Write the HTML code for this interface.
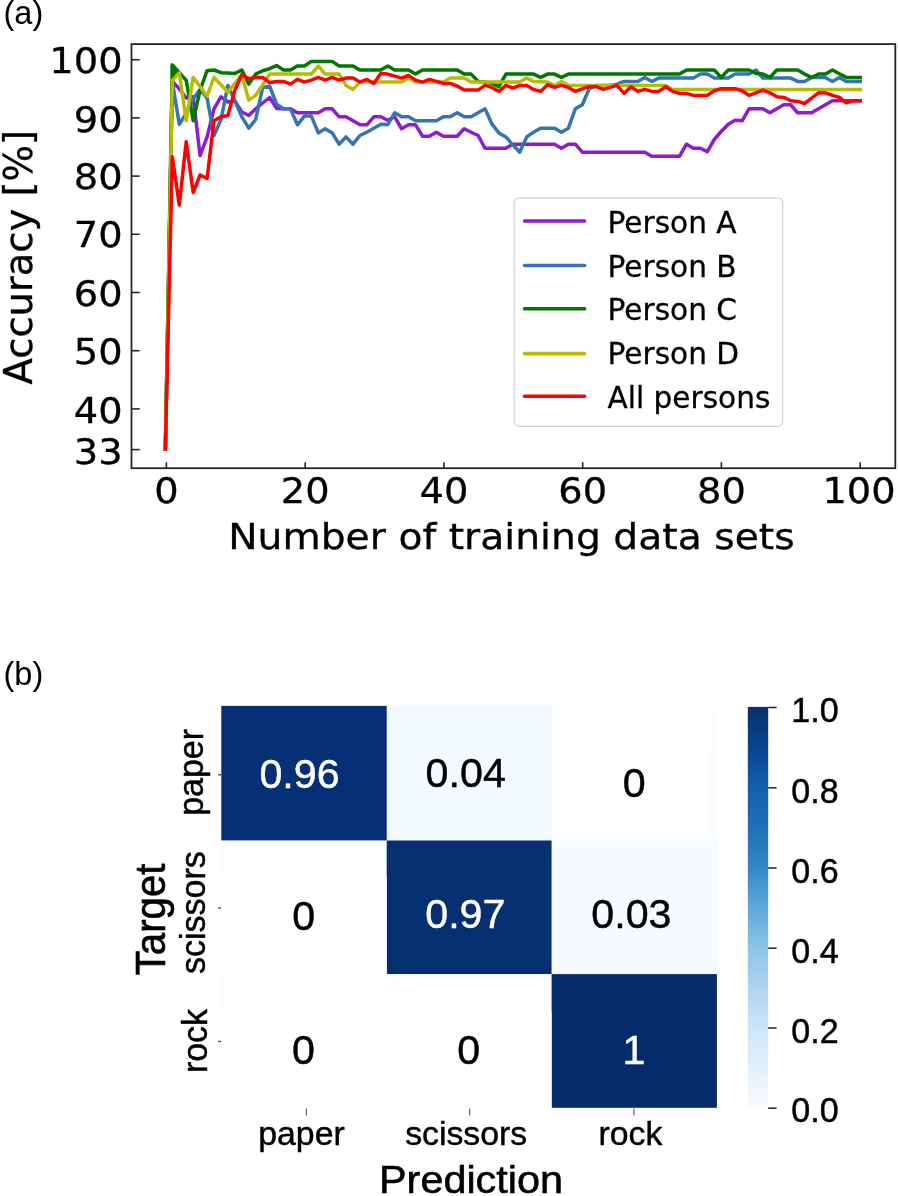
<!DOCTYPE html>
<html lang="en"><head><meta charset="utf-8"><title>Figure</title>
<style>
html,body{margin:0;padding:0;background:#fff;}
body{width:898px;height:1196px;overflow:hidden;}
svg{display:block;}
text{fill:#000;}
</style></head><body>
<svg width="898" height="1196" viewBox="0 0 898 1196">
<defs>
<linearGradient id="blues" x1="0" y1="1" x2="0" y2="0">
<stop offset="0" stop-color="#f8fcff"/><stop offset="0.1" stop-color="#e2f0fc"/><stop offset="0.2" stop-color="#cde4fa"/><stop offset="0.3" stop-color="#aed3f0"/><stop offset="0.4" stop-color="#8cc3e6"/><stop offset="0.5" stop-color="#5ea8da"/><stop offset="0.6" stop-color="#3488c8"/><stop offset="0.7" stop-color="#1f70b8"/><stop offset="0.8" stop-color="#145fab"/><stop offset="0.9" stop-color="#0a4490"/><stop offset="1" stop-color="#08306b"/>
</linearGradient>
<clipPath id="pc"><rect x="131.7" y="44.2" width="763.5" height="423.6"/></clipPath>
</defs>
<rect width="898" height="1196" fill="#fff"/>

<text x="3.5" y="24.3" font-size="32.5" font-family="Liberation Sans, DejaVu Sans, sans-serif">(a)</text>
<g clip-path="url(#pc)" fill="none" stroke-width="3.5" stroke-linejoin="round" stroke-linecap="square">
<polyline stroke="#8e1ad4" points="165.4,449.0 172.3,81.4 179.3,88.8 186.2,98.0 193.2,96.8 200.1,155.6 207.1,136.9 214.0,108.8 221.0,96.8 227.9,102.0 234.9,101.0 241.8,112.0 248.8,115.5 255.7,108.8 262.7,103.0 269.6,97.5 276.6,108.4 283.5,108.8 290.5,108.8 297.4,112.8 304.4,112.8 311.3,112.8 318.3,112.8 325.2,108.8 332.2,108.8 339.1,116.8 346.0,116.8 353.0,120.8 359.9,124.8 366.9,124.8 373.8,116.8 380.8,116.8 387.7,120.2 394.7,116.8 401.6,128.8 408.6,124.8 415.5,124.8 422.5,136.2 429.4,136.2 436.4,132.2 443.3,136.2 450.3,136.2 457.2,136.2 464.2,128.8 471.1,132.2 478.1,135.5 485.0,148.2 492.0,148.2 498.9,148.2 505.9,148.2 512.8,144.2 519.7,144.2 526.7,144.2 533.6,144.2 540.6,144.2 547.5,144.2 554.5,144.2 561.4,148.2 568.4,144.2 575.3,144.2 582.3,152.2 589.2,152.2 596.2,152.2 603.1,152.2 610.1,152.2 617.0,152.2 624.0,152.2 630.9,152.2 637.9,152.2 644.8,152.2 651.8,156.2 658.7,156.2 665.7,156.2 672.6,156.2 679.6,156.2 686.5,144.2 693.4,148.2 700.4,148.2 707.3,151.6 714.3,139.5 721.2,131.5 728.2,124.2 735.1,120.2 742.1,120.8 749.0,108.8 756.0,108.8 762.9,108.8 769.9,112.8 776.8,108.8 783.8,104.8 790.7,104.8 797.7,112.8 804.6,112.8 811.6,112.8 818.5,108.8 825.5,104.8 832.4,100.8 839.4,100.8 846.3,100.8 853.3,100.8 860.2,100.8"/>
<polyline stroke="#3375b3" points="165.4,449.0 172.3,81.5 179.3,124.4 186.2,113.5 193.2,99.0 200.1,89.5 207.1,98.1 214.0,135.5 221.0,119.5 227.9,85.4 234.9,100.8 241.8,116.8 248.8,128.2 255.7,119.5 262.7,87.4 269.6,86.1 276.6,104.1 283.5,108.8 290.5,108.8 297.4,124.8 304.4,116.1 311.3,116.1 318.3,132.9 325.2,128.8 332.2,132.9 339.1,144.2 346.0,136.9 353.0,144.2 359.9,135.5 366.9,132.2 373.8,128.2 380.8,124.2 387.7,124.6 394.7,112.8 401.6,116.8 408.6,116.8 415.5,120.8 422.5,120.8 429.4,120.8 436.4,120.8 443.3,116.8 450.3,116.8 457.2,112.8 464.2,116.8 471.1,116.8 478.1,112.8 485.0,108.8 492.0,124.2 498.9,132.9 505.9,136.9 512.8,144.9 519.7,152.2 526.7,136.9 533.6,132.2 540.6,128.2 547.5,128.2 554.5,128.2 561.4,132.2 568.4,128.2 575.3,108.8 582.3,104.8 589.2,88.8 596.2,85.4 603.1,85.4 610.1,85.4 617.0,84.1 624.0,81.4 630.9,81.4 637.9,81.4 644.8,77.4 651.8,81.4 658.7,78.1 665.7,78.1 672.6,78.1 679.6,78.1 686.5,78.1 693.4,78.1 700.4,74.1 707.3,74.1 714.3,78.1 721.2,78.1 728.2,78.1 735.1,74.1 742.1,74.1 749.0,74.1 756.0,70.0 762.9,78.1 769.9,78.1 776.8,78.1 783.8,78.1 790.7,78.1 797.7,81.4 804.6,81.4 811.6,77.4 818.5,77.4 825.5,77.4 832.4,81.4 839.4,77.4 846.3,81.4 853.3,81.4 860.2,81.4"/>
<polyline stroke="#007800" points="165.4,449.0 172.3,65.0 179.3,72.6 186.2,80.3 193.2,120.8 200.1,90.1 207.1,70.7 214.0,70.0 221.0,72.7 227.9,73.0 234.9,73.4 241.8,70.0 248.8,84.1 255.7,74.1 262.7,70.7 269.6,68.7 276.6,65.6 283.5,70.0 290.5,70.0 297.4,66.0 304.4,66.0 311.3,61.4 318.3,61.4 325.2,61.4 332.2,61.4 339.1,66.0 346.0,66.0 353.0,66.0 359.9,70.0 366.9,70.0 373.8,70.0 380.8,70.0 387.7,66.0 394.7,70.0 401.6,70.0 408.6,70.0 415.5,74.1 422.5,70.0 429.4,70.0 436.4,70.0 443.3,70.0 450.3,70.0 457.2,70.0 464.2,74.1 471.1,74.1 478.1,81.4 485.0,82.1 492.0,83.4 498.9,86.7 505.9,74.1 512.8,74.1 519.7,74.1 526.7,74.1 533.6,74.1 540.6,77.4 547.5,74.1 554.5,74.1 561.4,77.4 568.4,74.1 575.3,74.1 582.3,74.1 589.2,74.1 596.2,74.1 603.1,74.1 610.1,74.1 617.0,74.1 624.0,74.1 630.9,74.1 637.9,74.1 644.8,74.1 651.8,74.1 658.7,74.1 665.7,74.1 672.6,74.1 679.6,74.1 686.5,70.0 693.4,70.0 700.4,70.0 707.3,70.0 714.3,70.0 721.2,77.4 728.2,70.0 735.1,70.0 742.1,70.0 749.0,70.0 756.0,73.4 762.9,74.1 769.9,77.4 776.8,70.0 783.8,70.0 790.7,70.0 797.7,70.0 804.6,74.1 811.6,77.4 818.5,74.1 825.5,74.1 832.4,70.0 839.4,73.8 846.3,77.4 853.3,77.4 860.2,77.4"/>
<polygon points="171.6,64.5 179.3,72.6 172,80.4" fill="#007800" stroke="#007800" stroke-width="2"/>
<polyline stroke="#baba00" points="165.4,449.0 172.3,80.4 179.3,72.9 186.2,120.8 193.2,77.4 200.1,86.7 207.1,96.1 214.0,77.4 221.0,84.7 227.9,92.1 234.9,83.4 241.8,74.7 248.8,100.1 255.7,95.4 262.7,84.7 269.6,74.1 276.6,74.1 283.5,74.1 290.5,74.1 297.4,74.1 304.4,74.1 311.3,74.1 318.3,66.0 325.2,74.1 332.2,74.1 339.1,74.1 346.0,85.4 353.0,89.4 359.9,82.1 366.9,82.1 373.8,82.1 380.8,82.1 387.7,82.1 394.7,82.1 401.6,82.1 408.6,78.1 415.5,82.1 422.5,82.1 429.4,82.1 436.4,82.1 443.3,82.1 450.3,78.1 457.2,78.1 464.2,78.1 471.1,82.1 478.1,82.1 485.0,82.1 492.0,82.1 498.9,82.1 505.9,82.1 512.8,82.1 519.7,82.1 526.7,78.1 533.6,81.4 540.6,81.8 547.5,82.1 554.5,85.4 561.4,81.4 568.4,85.4 575.3,85.4 582.3,85.4 589.2,85.4 596.2,85.4 603.1,85.4 610.1,85.4 617.0,85.4 624.0,85.4 630.9,85.4 637.9,85.4 644.8,85.4 651.8,85.4 658.7,85.4 665.7,85.4 672.6,89.4 679.6,89.4 686.5,89.4 693.4,89.4 700.4,89.4 707.3,89.4 714.3,89.4 721.2,89.4 728.2,89.4 735.1,89.4 742.1,89.4 749.0,89.4 756.0,89.4 762.9,89.4 769.9,89.4 776.8,89.4 783.8,89.4 790.7,89.4 797.7,89.4 804.6,89.4 811.6,89.4 818.5,89.4 825.5,89.4 832.4,89.4 839.4,89.4 846.3,89.4 853.3,89.4 860.2,89.4"/>
<polyline stroke="#ff0000" points="165.4,449.0 172.3,156.7 179.3,205.0 186.2,141.8 193.2,192.5 200.1,175.0 207.1,178.5 214.0,120.8 221.0,116.8 227.9,115.5 234.9,90.1 241.8,74.7 248.8,78.7 255.7,77.4 262.7,77.4 269.6,82.7 276.6,81.4 283.5,81.4 290.5,84.1 297.4,79.4 304.4,82.1 311.3,80.1 318.3,77.4 325.2,80.1 332.2,77.4 339.1,80.1 346.0,78.1 353.0,78.1 359.9,82.1 366.9,79.4 373.8,83.4 380.8,73.4 387.7,74.1 394.7,76.1 401.6,78.1 408.6,75.4 415.5,80.1 422.5,82.1 429.4,79.4 436.4,81.4 443.3,83.4 450.3,83.4 457.2,86.1 464.2,90.1 471.1,90.1 478.1,90.1 485.0,85.4 492.0,87.4 498.9,91.4 505.9,85.4 512.8,88.1 519.7,85.4 526.7,85.4 533.6,89.4 540.6,91.4 547.5,84.7 554.5,87.4 561.4,85.4 568.4,87.4 575.3,91.4 582.3,88.8 589.2,86.7 596.2,86.7 603.1,89.4 610.1,87.4 617.0,85.4 624.0,93.4 630.9,86.7 637.9,91.4 644.8,89.4 651.8,91.4 658.7,91.4 665.7,86.7 672.6,91.4 679.6,93.4 686.5,93.4 693.4,95.4 700.4,95.4 707.3,95.4 714.3,90.8 721.2,88.8 728.2,88.8 735.1,88.8 742.1,90.8 749.0,95.4 756.0,92.8 762.9,90.1 769.9,92.8 776.8,96.8 783.8,97.4 790.7,100.8 797.7,101.4 804.6,103.5 811.6,98.1 818.5,92.8 825.5,92.8 832.4,95.4 839.4,97.4 846.3,102.8 853.3,100.8 860.2,100.8"/>
</g>
<rect x="131.5" y="44.1" width="763.8" height="424.1" fill="none" stroke="#262626" stroke-width="1.8"/>
<g stroke="#262626" stroke-width="1.6">
<line x1="131.7" x2="139.7" y1="59.7" y2="59.7"/>
<line x1="131.7" x2="139.7" y1="117.9" y2="117.9"/>
<line x1="131.7" x2="139.7" y1="176.1" y2="176.1"/>
<line x1="131.7" x2="139.7" y1="234.3" y2="234.3"/>
<line x1="131.7" x2="139.7" y1="292.5" y2="292.5"/>
<line x1="131.7" x2="139.7" y1="350.7" y2="350.7"/>
<line x1="131.7" x2="139.7" y1="408.9" y2="408.9"/>
<line x1="131.7" x2="139.7" y1="449.6" y2="449.6"/>
<line x1="166.4" x2="166.4" y1="468.3" y2="462.2"/>
<line x1="305.2" x2="305.2" y1="468.3" y2="462.2"/>
<line x1="443.9" x2="443.9" y1="468.3" y2="462.2"/>
<line x1="582.7" x2="582.7" y1="468.3" y2="462.2"/>
<line x1="721.4" x2="721.4" y1="468.3" y2="462.2"/>
<line x1="860.2" x2="860.2" y1="468.3" y2="462.2"/>
</g>
<text transform="translate(122.6,72.8) scale(1.06,1.0)" font-size="36.2" font-family="DejaVu Sans, Liberation Sans, sans-serif" text-anchor="end" style="fill:#000" stroke="#000" stroke-width="0.3">100</text>
<text transform="translate(122.6,131.6) scale(1.06,1.0)" font-size="36.2" font-family="DejaVu Sans, Liberation Sans, sans-serif" text-anchor="end" style="fill:#000" stroke="#000" stroke-width="0.3">90</text>
<text transform="translate(122.6,188.8) scale(1.06,1.0)" font-size="36.2" font-family="DejaVu Sans, Liberation Sans, sans-serif" text-anchor="end" style="fill:#000" stroke="#000" stroke-width="0.3">80</text>
<text transform="translate(122.6,247.3) scale(1.06,1.0)" font-size="36.2" font-family="DejaVu Sans, Liberation Sans, sans-serif" text-anchor="end" style="fill:#000" stroke="#000" stroke-width="0.3">70</text>
<text transform="translate(122.6,306.1) scale(1.06,1.0)" font-size="36.2" font-family="DejaVu Sans, Liberation Sans, sans-serif" text-anchor="end" style="fill:#000" stroke="#000" stroke-width="0.3">60</text>
<text transform="translate(122.6,364.4) scale(1.06,1.0)" font-size="36.2" font-family="DejaVu Sans, Liberation Sans, sans-serif" text-anchor="end" style="fill:#000" stroke="#000" stroke-width="0.3">50</text>
<text transform="translate(122.6,423.2) scale(1.06,1.0)" font-size="36.2" font-family="DejaVu Sans, Liberation Sans, sans-serif" text-anchor="end" style="fill:#000" stroke="#000" stroke-width="0.3">40</text>
<text transform="translate(122.6,464.3) scale(1.06,1.0)" font-size="36.2" font-family="DejaVu Sans, Liberation Sans, sans-serif" text-anchor="end" style="fill:#000" stroke="#000" stroke-width="0.3">33</text>
<text transform="translate(166.4,503.1) scale(1.06,1.0)" font-size="36.2" font-family="DejaVu Sans, Liberation Sans, sans-serif" text-anchor="middle" style="fill:#000" stroke="#000" stroke-width="0.3">0</text>
<text transform="translate(305.2,503.1) scale(1.06,1.0)" font-size="36.2" font-family="DejaVu Sans, Liberation Sans, sans-serif" text-anchor="middle" style="fill:#000" stroke="#000" stroke-width="0.3">20</text>
<text transform="translate(443.9,503.1) scale(1.06,1.0)" font-size="36.2" font-family="DejaVu Sans, Liberation Sans, sans-serif" text-anchor="middle" style="fill:#000" stroke="#000" stroke-width="0.3">40</text>
<text transform="translate(582.7,503.1) scale(1.06,1.0)" font-size="36.2" font-family="DejaVu Sans, Liberation Sans, sans-serif" text-anchor="middle" style="fill:#000" stroke="#000" stroke-width="0.3">60</text>
<text transform="translate(721.4,503.1) scale(1.06,1.0)" font-size="36.2" font-family="DejaVu Sans, Liberation Sans, sans-serif" text-anchor="middle" style="fill:#000" stroke="#000" stroke-width="0.3">80</text>
<text transform="translate(859.0,503.1) scale(1.06,1.0)" font-size="36.2" font-family="DejaVu Sans, Liberation Sans, sans-serif" text-anchor="middle" style="fill:#000" stroke="#000" stroke-width="0.3">100</text>
<text x="228.2" y="549.2" font-size="36" font-family="DejaVu Sans, Liberation Sans, sans-serif" textLength="566.5" lengthAdjust="spacingAndGlyphs" stroke="#000" stroke-width="0.3">Number of training data sets</text>
<text transform="translate(31.5,384.4) rotate(-90) scale(1,1.02)" font-size="37.6" font-family="DejaVu Sans, Liberation Sans, sans-serif" textLength="254.5" lengthAdjust="spacingAndGlyphs" stroke="#000" stroke-width="0.3">Accuracy [%]</text>
<rect x="514.2" y="197.8" width="268.5" height="228.5" rx="5" ry="5" fill="#fff" fill-opacity="0.8" stroke="#d0d0d0" stroke-width="1.2"/>
<line x1="524.6" x2="584.6" y1="221" y2="221" stroke="#8e1ad4" stroke-width="3.6" stroke-linecap="round"/>
<text x="607.6" y="233.1" font-size="29.55" font-family="DejaVu Sans, Liberation Sans, sans-serif" stroke="#000" stroke-width="0.3">Person A</text>
<line x1="524.6" x2="584.6" y1="265.5" y2="265.5" stroke="#3375b3" stroke-width="3.6" stroke-linecap="round"/>
<text x="607.6" y="276.6" font-size="29.55" font-family="DejaVu Sans, Liberation Sans, sans-serif" stroke="#000" stroke-width="0.3">Person B</text>
<line x1="524.6" x2="584.6" y1="308.7" y2="308.7" stroke="#007800" stroke-width="3.6" stroke-linecap="round"/>
<text x="607.6" y="320.1" font-size="29.55" font-family="DejaVu Sans, Liberation Sans, sans-serif" stroke="#000" stroke-width="0.3">Person C</text>
<line x1="524.6" x2="584.6" y1="353.6" y2="353.6" stroke="#baba00" stroke-width="3.6" stroke-linecap="round"/>
<text x="607.6" y="363.9" font-size="29.55" font-family="DejaVu Sans, Liberation Sans, sans-serif" stroke="#000" stroke-width="0.3">Person D</text>
<line x1="524.6" x2="584.6" y1="396.3" y2="396.3" stroke="#ff0000" stroke-width="3.6" stroke-linecap="round"/>
<text x="607.6" y="407.8" font-size="29.55" font-family="DejaVu Sans, Liberation Sans, sans-serif" stroke="#000" stroke-width="0.3">All persons</text>
<text x="3.5" y="685.1" font-size="32.5" font-family="Liberation Sans, DejaVu Sans, sans-serif">(b)</text>
<rect x="221.3" y="705.9" width="165.7" height="134.9" fill="#053075"/>
<rect x="386.7" y="705.9" width="165.2" height="134.9" fill="#f2faff"/>
<rect x="551.6" y="705.9" width="165.3" height="134.9" fill="#fbfdff"/>
<rect x="221.3" y="840.5" width="165.7" height="133.9" fill="#fbfdff"/>
<rect x="386.7" y="840.5" width="165.2" height="133.9" fill="#052f71"/>
<rect x="551.6" y="840.5" width="165.3" height="133.9" fill="#f5fbff"/>
<rect x="221.3" y="974.1" width="165.7" height="133.7" fill="#fbfdff"/>
<rect x="386.7" y="974.1" width="165.2" height="133.7" fill="#fbfdff"/>
<rect x="551.6" y="974.1" width="165.3" height="133.7" fill="#062c6b"/>
<g fill="#fff"><rect x="558.5" y="750" width="149.5" height="83"/><rect x="221.3" y="876" width="165.4" height="98"/><rect x="221.3" y="1011.5" width="330.3" height="96.2"/></g>
<text transform="translate(299.5,787.5) scale(1.025,1.0)" font-size="40.2" font-family="Liberation Sans, DejaVu Sans, sans-serif" text-anchor="middle" style="fill:#fff" stroke="#fff" stroke-width="0.45">0.96</text>
<text transform="translate(465.7,787.2) scale(1.025,1.0)" font-size="40.2" font-family="Liberation Sans, DejaVu Sans, sans-serif" text-anchor="middle" style="fill:#000" stroke="#000" stroke-width="0.45">0.04</text>
<text transform="translate(634.3,797.3) scale(1.025,1.0)" font-size="40.2" font-family="Liberation Sans, DejaVu Sans, sans-serif" text-anchor="middle" style="fill:#000" stroke="#000" stroke-width="0.45">0</text>
<text transform="translate(303.7,930.2) scale(1.025,1.0)" font-size="40.2" font-family="Liberation Sans, DejaVu Sans, sans-serif" text-anchor="middle" style="fill:#000" stroke="#000" stroke-width="0.45">0</text>
<text transform="translate(465.3,927.5) scale(1.025,1.0)" font-size="40.2" font-family="Liberation Sans, DejaVu Sans, sans-serif" text-anchor="middle" style="fill:#fff" stroke="#fff" stroke-width="0.45">0.97</text>
<text transform="translate(631.4,927.5) scale(1.025,1.0)" font-size="40.2" font-family="Liberation Sans, DejaVu Sans, sans-serif" text-anchor="middle" style="fill:#000" stroke="#000" stroke-width="0.45">0.03</text>
<text transform="translate(303.5,1063.7) scale(1.025,1.0)" font-size="40.2" font-family="Liberation Sans, DejaVu Sans, sans-serif" text-anchor="middle" style="fill:#000" stroke="#000" stroke-width="0.45">0</text>
<text transform="translate(468.6,1063.7) scale(1.025,1.0)" font-size="40.2" font-family="Liberation Sans, DejaVu Sans, sans-serif" text-anchor="middle" style="fill:#000" stroke="#000" stroke-width="0.45">0</text>
<text transform="translate(633.9,1063.7) scale(1.025,1.0)" font-size="40.2" font-family="Liberation Sans, DejaVu Sans, sans-serif" text-anchor="middle" style="fill:#fff" stroke="#fff" stroke-width="0.45">1</text>
<g stroke="#555" stroke-width="1.1">
<line x1="306.3" x2="306.3" y1="1108.5" y2="1115.5"/>
<line x1="469.8" x2="469.8" y1="1108.5" y2="1115.5"/>
<line x1="633.9" x2="633.9" y1="1108.5" y2="1115.5"/>
<line x1="218.2" x2="221" y1="774.8" y2="774.8" stroke="#333" stroke-width="1.3"/>
<line x1="218.2" x2="221" y1="908" y2="908" stroke="#333" stroke-width="1.3"/>
<line x1="218.2" x2="221" y1="1041.5" y2="1041.5" stroke="#333" stroke-width="1.3"/>
</g>
<text transform="translate(301.5,1145.4)" font-size="33.8" font-family="Liberation Sans, DejaVu Sans, sans-serif" text-anchor="middle" style="fill:#000" stroke="#000" stroke-width="0.45">paper</text>
<text transform="translate(466.2,1145.4)" font-size="33.8" font-family="Liberation Sans, DejaVu Sans, sans-serif" text-anchor="middle" style="fill:#000" stroke="#000" stroke-width="0.45">scissors</text>
<text transform="translate(630.4,1145.4)" font-size="33.8" font-family="Liberation Sans, DejaVu Sans, sans-serif" text-anchor="middle" style="fill:#000" stroke="#000" stroke-width="0.45">rock</text>
<text transform="translate(471,1192.9) scale(1.045,1.0)" font-size="39.6" font-family="Liberation Sans, DejaVu Sans, sans-serif" text-anchor="middle" style="fill:#000" stroke="#000" stroke-width="0.6">Prediction</text>
<text transform="translate(202.8,772.4) rotate(-90) scale(1.0,1.04)" font-size="34.0" font-family="Liberation Sans, DejaVu Sans, sans-serif" text-anchor="middle" style="fill:#000" stroke="#000" stroke-width="0.45">paper</text>
<text transform="translate(204.8,912.6) rotate(-90) scale(1.0,1.04)" font-size="34.0" font-family="Liberation Sans, DejaVu Sans, sans-serif" text-anchor="middle" style="fill:#000" stroke="#000" stroke-width="0.45">scissors</text>
<text transform="translate(206.6,1041.0) rotate(-90) scale(1.0,1.04)" font-size="34.0" font-family="Liberation Sans, DejaVu Sans, sans-serif" text-anchor="middle" style="fill:#000" stroke="#000" stroke-width="0.45">rock</text>
<text transform="translate(165.4,919.4) rotate(-90) scale(1.0,1.035)" font-size="40.2" font-family="Liberation Sans, DejaVu Sans, sans-serif" text-anchor="middle" style="fill:#000" stroke="#000" stroke-width="0.6">Target</text>
<rect x="747.8" y="706.9" width="20.4" height="400.6" fill="url(#blues)"/>
<g stroke="#222" stroke-width="1.5">
<line x1="768.2" x2="776.6" y1="707.5" y2="707.5"/>
<line x1="768.2" x2="776.6" y1="787.8" y2="787.8"/>
<line x1="768.2" x2="776.6" y1="868.0" y2="868.0"/>
<line x1="768.2" x2="776.6" y1="948.2" y2="948.2"/>
<line x1="768.2" x2="776.6" y1="1028.0" y2="1028.0"/>
<line x1="768.2" x2="776.6" y1="1108.2" y2="1108.2"/>
</g>
<text transform="translate(791.3,721.9) scale(0.99,1.03)" font-size="34.4" font-family="Liberation Sans, DejaVu Sans, sans-serif" text-anchor="start" style="fill:#000" stroke="#000" stroke-width="0.45">1.0</text>
<text transform="translate(791.3,802.5) scale(0.99,1.03)" font-size="34.4" font-family="Liberation Sans, DejaVu Sans, sans-serif" text-anchor="start" style="fill:#000" stroke="#000" stroke-width="0.45">0.8</text>
<text transform="translate(791.3,882.7) scale(0.99,1.03)" font-size="34.4" font-family="Liberation Sans, DejaVu Sans, sans-serif" text-anchor="start" style="fill:#000" stroke="#000" stroke-width="0.45">0.6</text>
<text transform="translate(791.3,963.0) scale(0.99,1.03)" font-size="34.4" font-family="Liberation Sans, DejaVu Sans, sans-serif" text-anchor="start" style="fill:#000" stroke="#000" stroke-width="0.45">0.4</text>
<text transform="translate(791.3,1042.8) scale(0.99,1.03)" font-size="34.4" font-family="Liberation Sans, DejaVu Sans, sans-serif" text-anchor="start" style="fill:#000" stroke="#000" stroke-width="0.45">0.2</text>
<text transform="translate(791.3,1121.8) scale(0.99,1.03)" font-size="34.4" font-family="Liberation Sans, DejaVu Sans, sans-serif" text-anchor="start" style="fill:#000" stroke="#000" stroke-width="0.45">0.0</text>
</svg></body></html>
